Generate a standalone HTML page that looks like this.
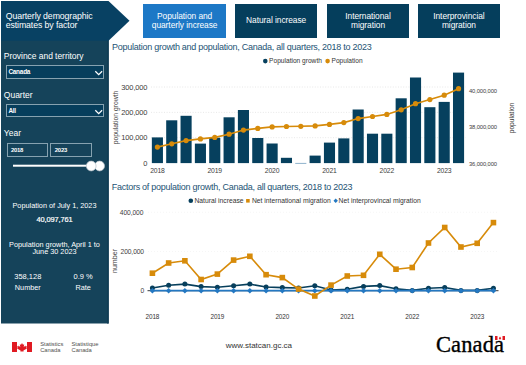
<!DOCTYPE html>
<html><head><meta charset="utf-8"><style>
html,body{margin:0;padding:0;background:#fff;}
body{width:526px;height:365px;position:relative;overflow:hidden;font-family:"Liberation Sans",sans-serif;}
.a{position:absolute;white-space:nowrap;}
.w{color:#fff;}
.tab{position:absolute;top:3.9px;height:33.7px;padding-top:1px;box-sizing:border-box;width:82.7px;background:#053e5c;color:#fff;font-size:8.4px;line-height:9.6px;text-align:center;display:flex;align-items:center;justify-content:center;letter-spacing:-0.05px;}
.box{position:absolute;border:1.2px solid #86a2b0;box-sizing:border-box;background:#063e5c;}
.bt{position:absolute;color:#fff;font-weight:bold;font-size:6.4px;letter-spacing:-0.22px;}
svg text{font-family:"Liberation Sans",sans-serif;}
</style></head><body>
<svg class="a" style="left:0;top:0" width="526" height="365" viewBox="0 0 526 365">
<rect x="1" y="40" width="107.7" height="283.5" fill="#15435a"/>
<rect x="107" y="40" width="1.7" height="283.5" fill="#103d54"/>
<polygon points="1,1 108.5,1 129.5,20.8 108.5,40.8 1,40.8" fill="#084163"/>
</svg>
<div class="a w" style="left:5.7px;top:12.3px;font-size:8.75px;line-height:9.1px;letter-spacing:-0.1px">Quarterly demographic<br>estimates by factor</div>

<div class="tab" style="left:143.3px;background:#1d78c6">Population and<br>quarterly increase</div>
<div class="tab" style="left:234.8px">Natural increase</div>
<div class="tab" style="left:326.7px">International<br>migration</div>
<div class="tab" style="left:417.6px">Interprovincial<br>migration</div>

<div class="a w" style="left:3.8px;top:51.4px;font-size:8.5px;letter-spacing:-0.05px">Province and territory</div>
<div class="box" style="left:5.5px;top:65.1px;width:98.7px;height:13.6px"></div>
<div class="bt" style="left:8.4px;top:68.4px">Canada</div>
<svg class="a" style="left:94px;top:68.5px" width="10" height="8"><path d="M1.3 2.2 L4.7 5.6 L8.1 2.2" fill="none" stroke="#fff" stroke-width="1.3"/></svg>

<div class="a w" style="left:3.8px;top:90.1px;font-size:8.5px">Quarter</div>
<div class="box" style="left:5.5px;top:104.2px;width:98.7px;height:12.8px"></div>
<div class="bt" style="left:8.4px;top:107.2px">All</div>
<svg class="a" style="left:94px;top:107.5px" width="10" height="8"><path d="M1.3 2.2 L4.7 5.6 L8.1 2.2" fill="none" stroke="#fff" stroke-width="1.3"/></svg>

<div class="a w" style="left:3.8px;top:128.1px;font-size:8.5px">Year</div>
<div class="box" style="left:7.3px;top:142.6px;width:41px;height:14px;background:none"></div>
<div class="bt" style="left:10.9px;top:147.3px;font-size:5.9px">2018</div>
<div class="box" style="left:50.2px;top:142.6px;width:41.8px;height:14px;background:none"></div>
<div class="bt" style="left:54.8px;top:147.3px;font-size:5.9px">2023</div>
<svg class="a" style="left:0;top:155px" width="110" height="22">
<rect x="13" y="9.7" width="80" height="2" fill="#fff"/>
<circle cx="99.6" cy="11" r="4.9" fill="#fff" stroke="#b9c3ca" stroke-width="0.7"/>
<circle cx="91.2" cy="11" r="4.9" fill="#fff" stroke="#b9c3ca" stroke-width="0.7"/>
</svg>

<div class="a w" style="left:0;width:109px;text-align:center;top:201.3px;font-size:7.3px">Population of July 1, 2023</div>
<div class="a w" style="left:0;width:109px;text-align:center;top:215.2px;font-size:7.4px;letter-spacing:-0.12px;-webkit-text-stroke:0.2px #fff">40,097,761</div>
<div class="a w" style="left:0;width:109px;text-align:center;top:240.8px;font-size:7.3px;line-height:7.4px">Population growth, April 1 to<br>June 30 2023</div>
<div class="a w" style="left:0;width:55.6px;text-align:center;top:271.6px;font-size:7.5px">358,128</div>
<div class="a w" style="left:55.6px;width:55px;text-align:center;top:271.6px;font-size:7.5px">0.9 %</div>
<div class="a w" style="left:0;width:55.6px;text-align:center;top:282.8px;font-size:7.3px">Number</div>
<div class="a w" style="left:55.6px;width:55px;text-align:center;top:282.8px;font-size:7.3px">Rate</div>

<div class="a" style="left:112px;top:41.9px;font-size:9px;letter-spacing:-0.26px;color:#245374">Population growth and population, Canada, all quarters, 2018 to 2023</div>
<div class="a" style="left:111.7px;top:181.8px;font-size:9px;letter-spacing:-0.26px;color:#245374">Factors of population growth, Canada, all quarters, 2018 to 2023</div>

<svg class="a" style="left:0;top:0" width="526" height="365" viewBox="0 0 526 365">
<line x1="151" y1="87.0" x2="466" y2="87.0" stroke="#e2e2e2" stroke-width="0.8" stroke-dasharray="1 1.6"/>
<line x1="151" y1="112.4" x2="466" y2="112.4" stroke="#e2e2e2" stroke-width="0.8" stroke-dasharray="1 1.6"/>
<line x1="151" y1="137.7" x2="466" y2="137.7" stroke="#e2e2e2" stroke-width="0.8" stroke-dasharray="1 1.6"/>
<rect x="151.85" y="137.4" width="11.1" height="25.70" fill="#06405e"/>
<rect x="166.19" y="120.3" width="11.1" height="42.80" fill="#06405e"/>
<rect x="180.53" y="115.8" width="11.1" height="47.30" fill="#06405e"/>
<rect x="194.87" y="143.6" width="11.1" height="19.50" fill="#06405e"/>
<rect x="209.21" y="137.7" width="11.1" height="25.40" fill="#06405e"/>
<rect x="223.55" y="117.3" width="11.1" height="45.80" fill="#06405e"/>
<rect x="237.89" y="110.0" width="11.1" height="53.10" fill="#06405e"/>
<rect x="252.23" y="138.0" width="11.1" height="25.10" fill="#06405e"/>
<rect x="266.57" y="143.5" width="11.1" height="19.60" fill="#06405e"/>
<rect x="280.91" y="157.8" width="11.1" height="5.30" fill="#06405e"/>
<rect x="295.25" y="162.9" width="11.1" height="1" fill="#8fb3cc"/>
<rect x="309.59" y="155.6" width="11.1" height="7.50" fill="#06405e"/>
<rect x="323.93" y="142.6" width="11.1" height="20.50" fill="#06405e"/>
<rect x="338.27" y="138.4" width="11.1" height="24.70" fill="#06405e"/>
<rect x="352.61" y="109.5" width="11.1" height="53.60" fill="#06405e"/>
<rect x="366.95" y="133.7" width="11.1" height="29.40" fill="#06405e"/>
<rect x="381.29" y="133.7" width="11.1" height="29.40" fill="#06405e"/>
<rect x="395.63" y="98.3" width="11.1" height="64.80" fill="#06405e"/>
<rect x="409.97" y="77.5" width="11.1" height="85.60" fill="#06405e"/>
<rect x="424.31" y="107.2" width="11.1" height="55.90" fill="#06405e"/>
<rect x="438.65" y="101.9" width="11.1" height="61.20" fill="#06405e"/>
<rect x="452.99" y="72.6" width="11.1" height="90.50" fill="#06405e"/>
<polyline points="157.40,147.1 171.74,143.8 186.08,140.6 200.42,138.9 214.76,137.4 229.10,134.2 243.44,130.1 257.78,128.4 272.12,126.9 286.46,126.5 300.80,126.3 315.14,125.9 329.48,124.4 343.82,122.6 358.16,118.6 372.50,116.5 386.84,114.4 401.18,109.8 415.52,103.7 429.86,99.6 444.20,95.2 458.54,88.7" fill="none" stroke="#d78b0a" stroke-width="1.6"/>
<circle cx="157.40" cy="147.1" r="2.6" fill="#d78b0a"/>
<circle cx="171.74" cy="143.8" r="2.6" fill="#d78b0a"/>
<circle cx="186.08" cy="140.6" r="2.6" fill="#d78b0a"/>
<circle cx="200.42" cy="138.9" r="2.6" fill="#d78b0a"/>
<circle cx="214.76" cy="137.4" r="2.6" fill="#d78b0a"/>
<circle cx="229.10" cy="134.2" r="2.6" fill="#d78b0a"/>
<circle cx="243.44" cy="130.1" r="2.6" fill="#d78b0a"/>
<circle cx="257.78" cy="128.4" r="2.6" fill="#d78b0a"/>
<circle cx="272.12" cy="126.9" r="2.6" fill="#d78b0a"/>
<circle cx="286.46" cy="126.5" r="2.6" fill="#d78b0a"/>
<circle cx="300.80" cy="126.3" r="2.6" fill="#d78b0a"/>
<circle cx="315.14" cy="125.9" r="2.6" fill="#d78b0a"/>
<circle cx="329.48" cy="124.4" r="2.6" fill="#d78b0a"/>
<circle cx="343.82" cy="122.6" r="2.6" fill="#d78b0a"/>
<circle cx="358.16" cy="118.6" r="2.6" fill="#d78b0a"/>
<circle cx="372.50" cy="116.5" r="2.6" fill="#d78b0a"/>
<circle cx="386.84" cy="114.4" r="2.6" fill="#d78b0a"/>
<circle cx="401.18" cy="109.8" r="2.6" fill="#d78b0a"/>
<circle cx="415.52" cy="103.7" r="2.6" fill="#d78b0a"/>
<circle cx="429.86" cy="99.6" r="2.6" fill="#d78b0a"/>
<circle cx="444.20" cy="95.2" r="2.6" fill="#d78b0a"/>
<circle cx="458.54" cy="88.7" r="2.6" fill="#d78b0a"/>
<text x="147.4" y="89.7" text-anchor="end" font-size="7.5" letter-spacing="-0.15" fill="#3c3c3c">300,000</text>
<text x="147.4" y="115.10000000000001" text-anchor="end" font-size="7.5" letter-spacing="-0.15" fill="#3c3c3c">200,000</text>
<text x="147.4" y="140.39999999999998" text-anchor="end" font-size="7.5" letter-spacing="-0.15" fill="#3c3c3c">100,000</text>
<text x="147.4" y="165.79999999999998" text-anchor="end" font-size="7.5" letter-spacing="-0.15" fill="#3c3c3c">0</text>
<text x="468.9" y="93" font-size="5.8" letter-spacing="-0.1" fill="#3c3c3c">40,000,000</text>
<text x="468.9" y="129" font-size="5.8" letter-spacing="-0.1" fill="#3c3c3c">38,000,000</text>
<text x="468.9" y="165.5" font-size="5.8" letter-spacing="-0.1" fill="#3c3c3c">36,000,000</text>
<text x="157.40" y="173.3" text-anchor="middle" font-size="6.8" letter-spacing="-0.15" fill="#3c3c3c">2018</text>
<text x="214.76" y="173.3" text-anchor="middle" font-size="6.8" letter-spacing="-0.15" fill="#3c3c3c">2019</text>
<text x="272.12" y="173.3" text-anchor="middle" font-size="6.8" letter-spacing="-0.15" fill="#3c3c3c">2020</text>
<text x="329.48" y="173.3" text-anchor="middle" font-size="6.8" letter-spacing="-0.15" fill="#3c3c3c">2021</text>
<text x="386.84" y="173.3" text-anchor="middle" font-size="6.8" letter-spacing="-0.15" fill="#3c3c3c">2022</text>
<text x="444.20" y="173.3" text-anchor="middle" font-size="6.8" letter-spacing="-0.15" fill="#3c3c3c">2023</text>
<text transform="translate(118,117.5) rotate(-90)" text-anchor="middle" font-size="6.8" fill="#3c3c3c">population growth</text>
<text transform="translate(514.3,118) rotate(-90)" text-anchor="middle" font-size="6.6" fill="#3c3c3c">population</text>
<circle cx="265.3" cy="61.1" r="2.3" fill="#06405e"/>
<text x="269.1" y="63.4" font-size="6.6" fill="#333">Population growth</text>
<circle cx="327.6" cy="61.1" r="2.3" fill="#d78b0a"/>
<text x="331.5" y="63.4" font-size="6.6" fill="#333">Population</text>
<line x1="148" y1="212.3" x2="498" y2="212.3" stroke="#f4f4f4" stroke-width="0.8" stroke-dasharray="1 2"/>
<line x1="148" y1="251.5" x2="498" y2="251.5" stroke="#f4f4f4" stroke-width="0.8" stroke-dasharray="1 2"/>
<text x="143.3" y="214.79999999999998" text-anchor="end" font-size="6.7" letter-spacing="-0.1" fill="#3c3c3c">400,000</text>
<text x="144" y="253.79999999999998" text-anchor="end" font-size="6.7" letter-spacing="-0.1" fill="#3c3c3c">200,000</text>
<text x="144" y="292.9" text-anchor="end" font-size="6.7" letter-spacing="-0.1" fill="#3c3c3c">0</text>
<text x="152.40" y="319.2" text-anchor="middle" font-size="6.4" letter-spacing="-0.1" fill="#333">2018</text>
<text x="217.36" y="319.2" text-anchor="middle" font-size="6.4" letter-spacing="-0.1" fill="#333">2019</text>
<text x="282.32" y="319.2" text-anchor="middle" font-size="6.4" letter-spacing="-0.1" fill="#333">2020</text>
<text x="347.28" y="319.2" text-anchor="middle" font-size="6.4" letter-spacing="-0.1" fill="#333">2021</text>
<text x="412.24" y="319.2" text-anchor="middle" font-size="6.4" letter-spacing="-0.1" fill="#333">2022</text>
<text x="477.20" y="319.2" text-anchor="middle" font-size="6.4" letter-spacing="-0.1" fill="#333">2023</text>
<text transform="translate(117.3,261) rotate(-90)" text-anchor="middle" font-size="7.1" fill="#3c3c3c">number</text>
<line x1="147.5" y1="290.7" x2="498.5" y2="290.7" stroke="#222" stroke-width="0.9"/>
<polyline points="152.40,288 168.64,285.3 184.88,284.1 201.12,286.6 217.36,287.2 233.60,285.7 249.84,284.1 266.08,287 282.32,287.6 298.56,288 314.80,285.7 331.04,290 347.28,289.3 363.52,286.4 379.76,285.6 396.00,288.8 412.24,290.4 428.48,288.3 444.72,287.5 460.96,290.4 477.20,290.4 493.44,288.3" fill="none" stroke="#073f5c" stroke-width="1.6"/>
<circle cx="152.40" cy="288" r="2.5" fill="#073f5c"/>
<circle cx="168.64" cy="285.3" r="2.5" fill="#073f5c"/>
<circle cx="184.88" cy="284.1" r="2.5" fill="#073f5c"/>
<circle cx="201.12" cy="286.6" r="2.5" fill="#073f5c"/>
<circle cx="217.36" cy="287.2" r="2.5" fill="#073f5c"/>
<circle cx="233.60" cy="285.7" r="2.5" fill="#073f5c"/>
<circle cx="249.84" cy="284.1" r="2.5" fill="#073f5c"/>
<circle cx="266.08" cy="287" r="2.5" fill="#073f5c"/>
<circle cx="282.32" cy="287.6" r="2.5" fill="#073f5c"/>
<circle cx="298.56" cy="288" r="2.5" fill="#073f5c"/>
<circle cx="314.80" cy="285.7" r="2.5" fill="#073f5c"/>
<circle cx="331.04" cy="290" r="2.5" fill="#073f5c"/>
<circle cx="347.28" cy="289.3" r="2.5" fill="#073f5c"/>
<circle cx="363.52" cy="286.4" r="2.5" fill="#073f5c"/>
<circle cx="379.76" cy="285.6" r="2.5" fill="#073f5c"/>
<circle cx="396.00" cy="288.8" r="2.5" fill="#073f5c"/>
<circle cx="412.24" cy="290.4" r="2.5" fill="#073f5c"/>
<circle cx="428.48" cy="288.3" r="2.5" fill="#073f5c"/>
<circle cx="444.72" cy="287.5" r="2.5" fill="#073f5c"/>
<circle cx="460.96" cy="290.4" r="2.5" fill="#073f5c"/>
<circle cx="477.20" cy="290.4" r="2.5" fill="#073f5c"/>
<circle cx="493.44" cy="288.3" r="2.5" fill="#073f5c"/>
<polyline points="152.40,290.7 168.64,290.7 184.88,290.7 201.12,290.7 217.36,290.7 233.60,290.7 249.84,290.7 266.08,290.7 282.32,290.7 298.56,290.7 314.80,290.7 331.04,290.7 347.28,290.7 363.52,290.7 379.76,290.7 396.00,290.7 412.24,290.7 428.48,290.7 444.72,290.7 460.96,290.7 477.20,290.7 493.44,290.7" fill="none" stroke="#2478c2" stroke-width="1.8"/>
<path d="M152.40 287.9 L155.20 290.7 L152.40 293.5 L149.60 290.7Z" fill="#2478c2"/>
<path d="M168.64 287.9 L171.44 290.7 L168.64 293.5 L165.84 290.7Z" fill="#2478c2"/>
<path d="M184.88 287.9 L187.68 290.7 L184.88 293.5 L182.08 290.7Z" fill="#2478c2"/>
<path d="M201.12 287.9 L203.92 290.7 L201.12 293.5 L198.32 290.7Z" fill="#2478c2"/>
<path d="M217.36 287.9 L220.16 290.7 L217.36 293.5 L214.56 290.7Z" fill="#2478c2"/>
<path d="M233.60 287.9 L236.40 290.7 L233.60 293.5 L230.80 290.7Z" fill="#2478c2"/>
<path d="M249.84 287.9 L252.64 290.7 L249.84 293.5 L247.04 290.7Z" fill="#2478c2"/>
<path d="M266.08 287.9 L268.88 290.7 L266.08 293.5 L263.28 290.7Z" fill="#2478c2"/>
<path d="M282.32 287.9 L285.12 290.7 L282.32 293.5 L279.52 290.7Z" fill="#2478c2"/>
<path d="M298.56 287.9 L301.36 290.7 L298.56 293.5 L295.76 290.7Z" fill="#2478c2"/>
<path d="M314.80 287.9 L317.60 290.7 L314.80 293.5 L312.00 290.7Z" fill="#2478c2"/>
<path d="M331.04 287.9 L333.84 290.7 L331.04 293.5 L328.24 290.7Z" fill="#2478c2"/>
<path d="M347.28 287.9 L350.08 290.7 L347.28 293.5 L344.48 290.7Z" fill="#2478c2"/>
<path d="M363.52 287.9 L366.32 290.7 L363.52 293.5 L360.72 290.7Z" fill="#2478c2"/>
<path d="M379.76 287.9 L382.56 290.7 L379.76 293.5 L376.96 290.7Z" fill="#2478c2"/>
<path d="M396.00 287.9 L398.80 290.7 L396.00 293.5 L393.20 290.7Z" fill="#2478c2"/>
<path d="M412.24 287.9 L415.04 290.7 L412.24 293.5 L409.44 290.7Z" fill="#2478c2"/>
<path d="M428.48 287.9 L431.28 290.7 L428.48 293.5 L425.68 290.7Z" fill="#2478c2"/>
<path d="M444.72 287.9 L447.52 290.7 L444.72 293.5 L441.92 290.7Z" fill="#2478c2"/>
<path d="M460.96 287.9 L463.76 290.7 L460.96 293.5 L458.16 290.7Z" fill="#2478c2"/>
<path d="M477.20 287.9 L480.00 290.7 L477.20 293.5 L474.40 290.7Z" fill="#2478c2"/>
<path d="M493.44 287.9 L496.24 290.7 L493.44 293.5 L490.64 290.7Z" fill="#2478c2"/>
<polyline points="152.40,273.2 168.64,263 184.88,260.8 201.12,279.5 217.36,274.1 233.60,260.1 249.84,256.3 266.08,274.7 282.32,277.6 298.56,289.1 314.80,296 331.04,285.1 347.28,276 363.52,275.3 379.76,254.3 396.00,269.2 412.24,267.5 428.48,243 444.72,227.5 460.96,247 477.20,243.3 493.44,222.6" fill="none" stroke="#d78b0a" stroke-width="1.6"/>
<rect x="149.60" y="270.40" width="5.6" height="5.6" fill="#d78b0a"/>
<rect x="165.84" y="260.20" width="5.6" height="5.6" fill="#d78b0a"/>
<rect x="182.08" y="258.00" width="5.6" height="5.6" fill="#d78b0a"/>
<rect x="198.32" y="276.70" width="5.6" height="5.6" fill="#d78b0a"/>
<rect x="214.56" y="271.30" width="5.6" height="5.6" fill="#d78b0a"/>
<rect x="230.80" y="257.30" width="5.6" height="5.6" fill="#d78b0a"/>
<rect x="247.04" y="253.50" width="5.6" height="5.6" fill="#d78b0a"/>
<rect x="263.28" y="271.90" width="5.6" height="5.6" fill="#d78b0a"/>
<rect x="279.52" y="274.80" width="5.6" height="5.6" fill="#d78b0a"/>
<rect x="295.76" y="286.30" width="5.6" height="5.6" fill="#d78b0a"/>
<rect x="312.00" y="293.20" width="5.6" height="5.6" fill="#d78b0a"/>
<rect x="328.24" y="282.30" width="5.6" height="5.6" fill="#d78b0a"/>
<rect x="344.48" y="273.20" width="5.6" height="5.6" fill="#d78b0a"/>
<rect x="360.72" y="272.50" width="5.6" height="5.6" fill="#d78b0a"/>
<rect x="376.96" y="251.50" width="5.6" height="5.6" fill="#d78b0a"/>
<rect x="393.20" y="266.40" width="5.6" height="5.6" fill="#d78b0a"/>
<rect x="409.44" y="264.70" width="5.6" height="5.6" fill="#d78b0a"/>
<rect x="425.68" y="240.20" width="5.6" height="5.6" fill="#d78b0a"/>
<rect x="441.92" y="224.70" width="5.6" height="5.6" fill="#d78b0a"/>
<rect x="458.16" y="244.20" width="5.6" height="5.6" fill="#d78b0a"/>
<rect x="474.40" y="240.50" width="5.6" height="5.6" fill="#d78b0a"/>
<rect x="490.64" y="219.80" width="5.6" height="5.6" fill="#d78b0a"/>
<circle cx="190.8" cy="200.8" r="2.3" fill="#073f5c"/>
<text x="194.4" y="203.1" font-size="6.75" fill="#333">Natural increase</text>
<rect x="246.1" y="199" width="3.6" height="3.6" fill="#d78b0a"/>
<text x="251.9" y="203.1" font-size="6.75" fill="#333">Net international migration</text>
<path d="M335.7 198.6 L337.9 200.8 L335.7 203 L333.5 200.8Z" fill="#2478c2"/>
<text x="338.6" y="203.1" font-size="6.75" fill="#333">Net interprovincal migration</text>
</svg>

<svg class="a" style="left:12.2px;top:341.9px" width="20" height="10" viewBox="0 0 20 10">
<rect x="0" y="0" width="5" height="10" fill="#e01a22"/>
<rect x="15" y="0" width="5" height="10" fill="#e01a22"/>
<path d="M10 1 L11 2.8 L12.2 2.3 L11.7 5.2 L13.3 3.6 L13.7 4.5 L15 4.2 L14.4 6 L15 6.4 L11.4 8.6 L11.7 9.4 L10.25 9.2 L10.25 10 L9.75 10 L9.75 9.2 L8.3 9.4 L8.6 8.6 L5 6.4 L5.6 6 L5 4.2 L6.3 4.5 L6.7 3.6 L8.3 5.2 L7.8 2.3 L9 2.8 Z" fill="#e01a22"/>
</svg>
<div class="a" style="left:40.2px;top:342.4px;font-size:5.8px;line-height:5.3px;color:#505050">Statistics<br>Canada</div>
<div class="a" style="left:71.5px;top:342.4px;font-size:5.8px;line-height:5.3px;color:#505050">Statistique<br>Canada</div>
<div class="a" style="left:225.8px;top:341.2px;font-size:8px;color:#333;letter-spacing:0px">www.statcan.gc.ca</div>
<div class="a" style="left:436px;top:331.6px;font-family:'Liberation Serif',serif;font-size:22.5px;color:#000;letter-spacing:0.1px;-webkit-text-stroke:0.35px #000">Canada</div>
<svg class="a" style="left:494.8px;top:336px" width="10" height="4.3" viewBox="0 0 10 4.3">
<rect x="0" y="0" width="2.5" height="4.3" fill="#e01a22"/><rect x="7.5" y="0" width="2.5" height="4.3" fill="#e01a22"/>
<path d="M5 0.6 L6.2 2.2 L5.4 3.6 L4.6 3.6 L3.8 2.2Z" fill="#e01a22"/>
</svg>
</body></html>
